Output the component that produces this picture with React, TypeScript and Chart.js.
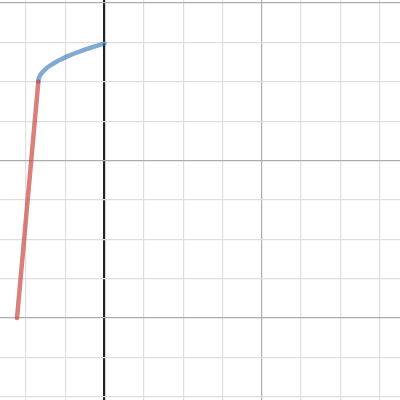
import React, { useEffect, useRef } from 'react';
import { Chart, registerables } from 'chart.js';

Chart.register(...registerables);

// straight red segment (x, y)
const redX = [-2.226, -1.684];
const redY = [4.0, 10.0];

// blue curve
const blueX = [
  -1.684, -1.68, -1.67, -1.65, -1.62, -1.58, -1.5, -1.4, -1.3, -1.2, -1.1, -1.0, -0.9, -0.8, -0.7,
  -0.6, -0.5, -0.4, -0.3, -0.2, -0.1, 0,
];
const blueY = [
  10.0, 10.047, 10.088, 10.138, 10.189, 10.241, 10.321, 10.398, 10.463, 10.52, 10.571, 10.618,
  10.662, 10.703, 10.741, 10.778, 10.813, 10.847, 10.879, 10.911, 10.941, 10.97,
];

// grid lines
const xGridTicks = [-2, -1, 0, 1, 2, 3, 4, 5, 6, 7];
const yGridTicks = [2, 3, 4, 5, 6, 7, 8, 9, 10, 11, 12];
const xMajor = [4];
const yMajor = [4, 8, 12];

const MINOR = '#dedede';
const MAJOR = '#adadad';
const AXIS = '#222222';

const GraphChart: React.FC = () => {
  const canvasRef = useRef<HTMLCanvasElement | null>(null);
  const chartInstance = useRef<Chart | null>(null);

  useEffect(() => {
    const canvas = canvasRef.current;
    if (!canvas) return;
    const ctx = canvas.getContext('2d');
    if (!ctx) return;

    if (chartInstance.current) chartInstance.current.destroy();

    const red = redX.map((x, i) => ({ x, y: redY[i] }));
    const blue = blueX.map((x, i) => ({ x, y: blueY[i] }));

    chartInstance.current = new Chart(ctx, {
      type: 'scatter',
      data: {
        datasets: [
          {
            data: red,
            showLine: true,
            borderColor: 'rgba(199,68,64,0.68)',
            borderWidth: 4.5,
            borderCapStyle: 'round',
            pointRadius: 0,
            fill: false,
          },
          {
            data: blue,
            showLine: true,
            borderColor: 'rgba(45,112,179,0.6)',
            borderWidth: 4.5,
            borderCapStyle: 'round',
            borderJoinStyle: 'round',
            cubicInterpolationMode: 'monotone',
            pointRadius: 0,
            fill: false,
          },
        ],
      },
      options: {
        animation: false,
        responsive: true,
        maintainAspectRatio: false,
        plugins: {
          legend: { display: false },
          tooltip: { enabled: false },
        },
        layout: { padding: 0 },
        scales: {
          x: {
            type: 'linear',
            min: -2.659,
            max: 7.519,
            afterBuildTicks: (scale) => {
              scale.ticks = xGridTicks.map((value) => ({ value }));
            },
            ticks: { display: false, padding: 0 },
            border: { display: false },
            grid: {
              drawTicks: false,
              color: (c) =>
                c.tick.value === 0 ? AXIS : xMajor.includes(c.tick.value) ? MAJOR : MINOR,
              lineWidth: (c) => (c.tick.value === 0 ? 2.2 : 1.2),
            },
          },
          y: {
            type: 'linear',
            min: 1.921,
            max: 12.074,
            afterBuildTicks: (scale) => {
              scale.ticks = yGridTicks.map((value) => ({ value }));
            },
            ticks: { display: false, padding: 0 },
            border: { display: false },
            grid: {
              drawTicks: false,
              color: (c) => (yMajor.includes(c.tick.value) ? MAJOR : MINOR),
              lineWidth: 1.2,
            },
          },
        },
      },
    });

    return () => {
      if (chartInstance.current) {
        chartInstance.current.destroy();
        chartInstance.current = null;
      }
    };
  }, []);

  return (
    <div style={{ position: 'fixed', left: 0, top: 0, width: '400px', height: '400px', background: '#fff' }}>
      <canvas ref={canvasRef}></canvas>
    </div>
  );
};

export default function App() {
  return <GraphChart />;
}
